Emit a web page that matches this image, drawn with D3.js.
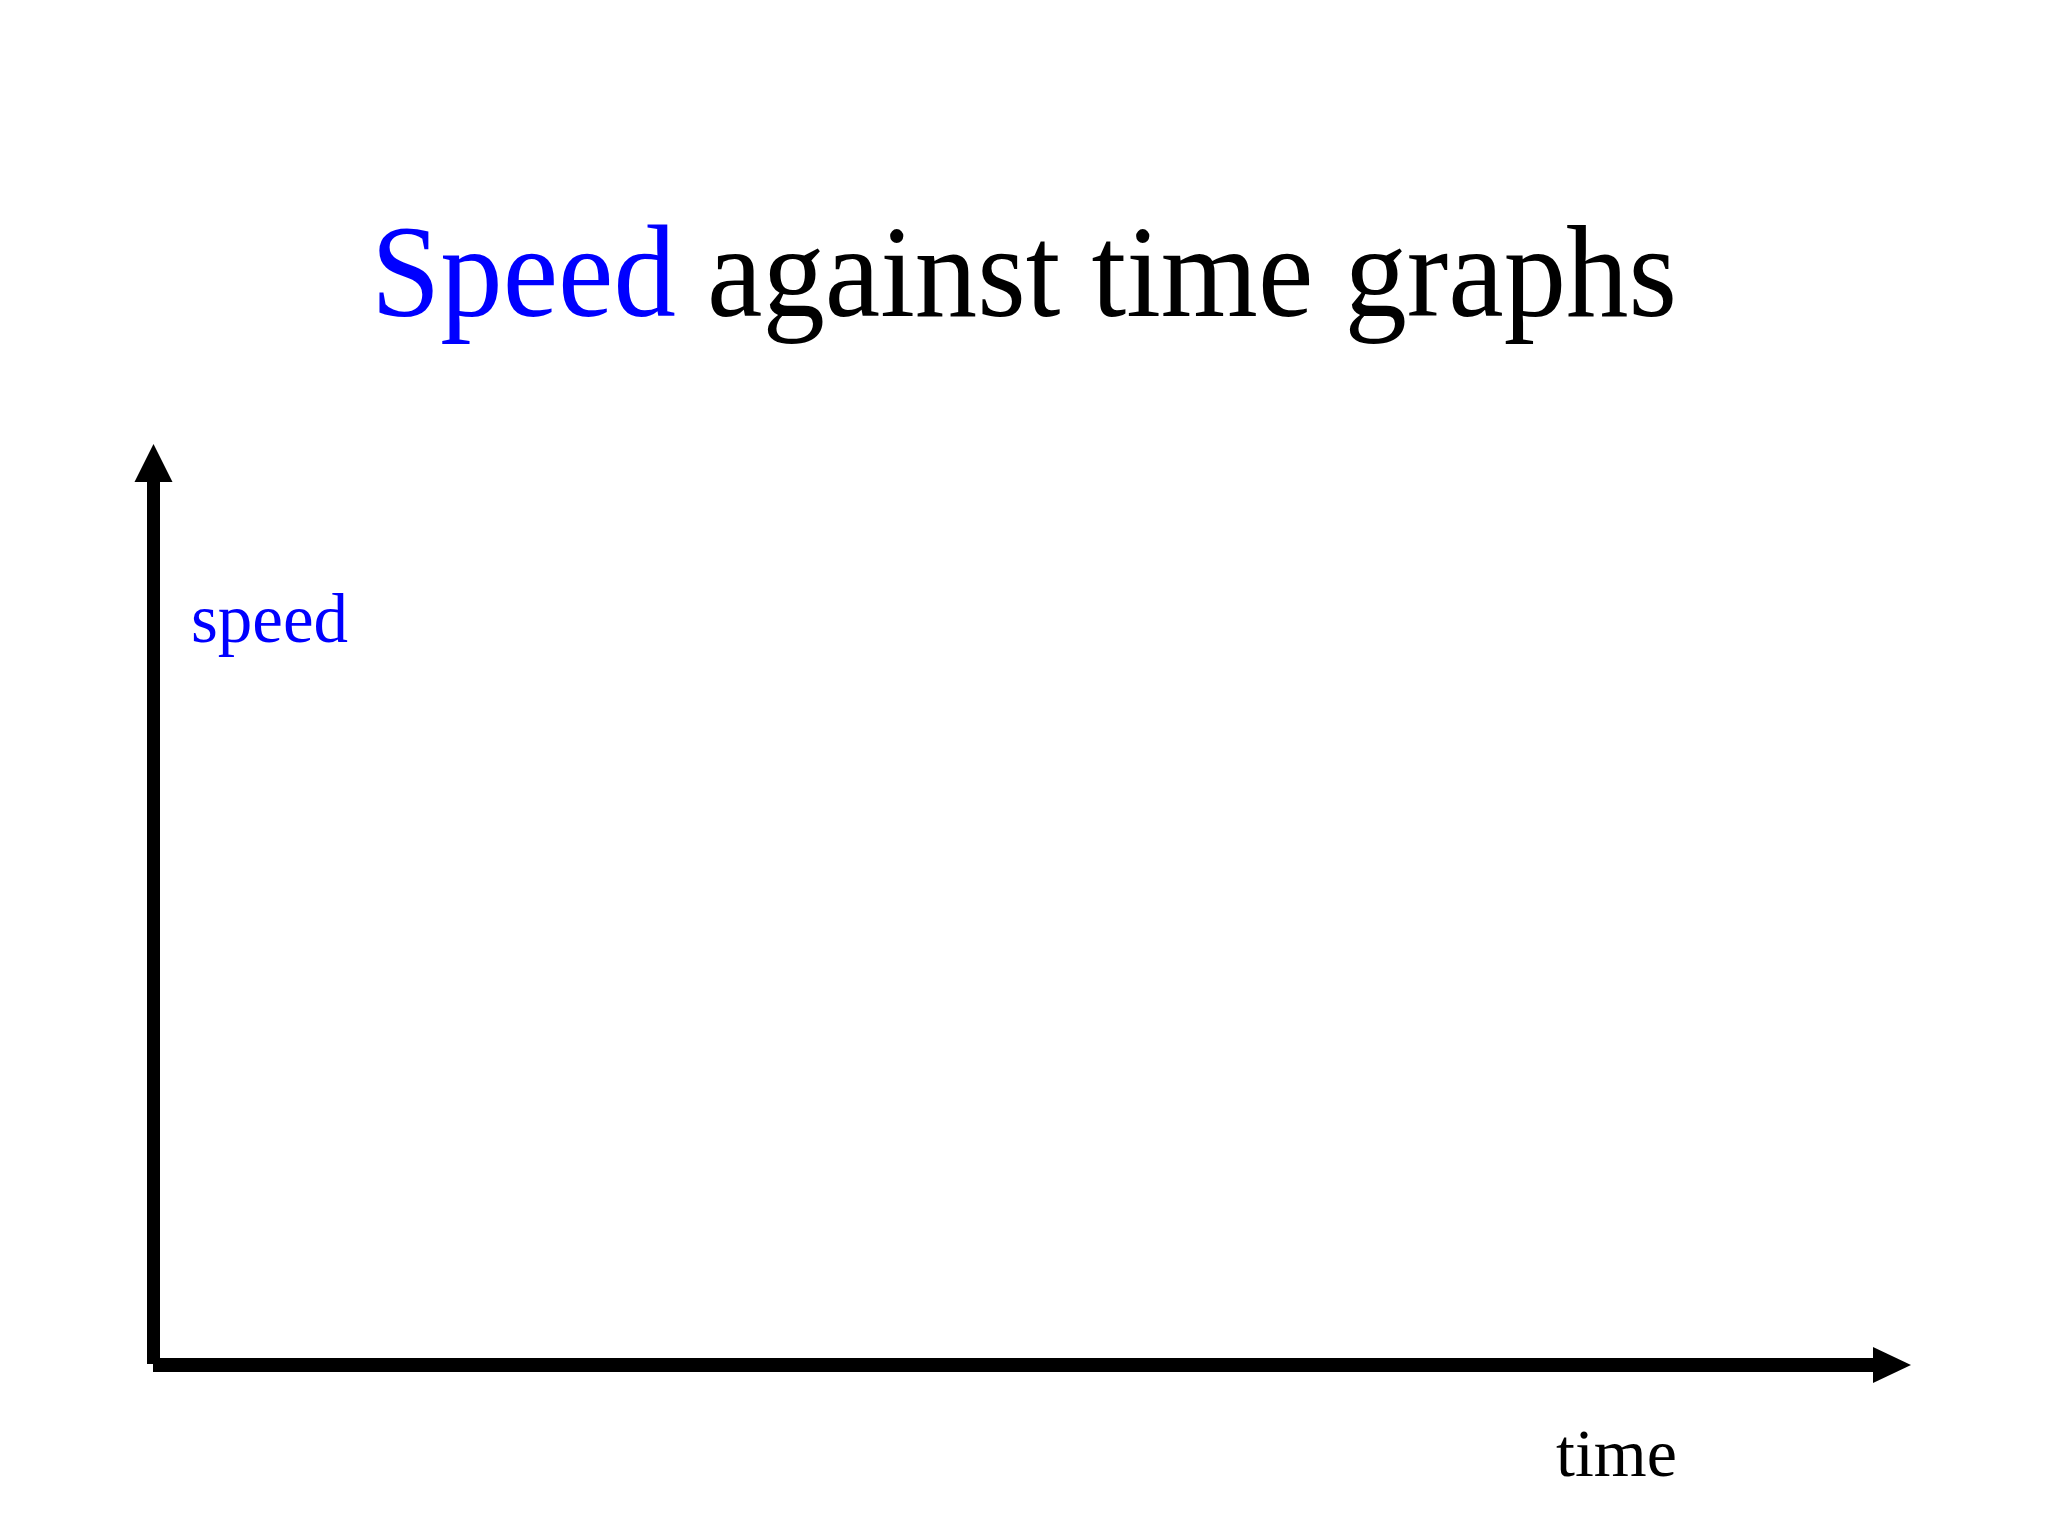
<!DOCTYPE html>
<html>
<head>
<meta charset="utf-8">
<script src="https://cdn.jsdelivr.net/npm/d3@7"></script>
<style>
  html, body { margin: 0; padding: 0; background: #ffffff; }
  svg { display: block; }
</style>
</head>
<body>
<script>
// Chart content (an empty speed–time axes slide)
const titleParts = [
  { text: "Speed", color: "#0000ff" },
  { text: " against time graphs", color: "#000000" }
];
const yAxisLabel = "speed";
const xAxisLabel = "time";
const timeDomain = [0, 1];
const speedDomain = [0, 1];

const W = 2048, H = 1536;
const svg = d3.select("body").append("svg").attr("width", W).attr("height", H);
svg.append("rect").attr("width", W).attr("height", H).attr("fill", "#ffffff");

const x = d3.scaleLinear().domain(timeDomain).range([153, 1911]);
const y = d3.scaleLinear().domain(speedDomain).range([1365, 444]);

// Title
const title = svg.append("text")
  .attr("x", 371).attr("y", 316)
  .attr("font-family", "'Liberation Serif', 'Times New Roman', serif")
  .attr("font-size", 131)
  .attr("textLength", 1306)
  .attr("lengthAdjust", "spacingAndGlyphs")
  .style("white-space", "pre");
title.selectAll("tspan").data(titleParts).join("tspan")
  .attr("fill", d => d.color)
  .text(d => d.text);

// Y axis with arrow
const axW = 13;
const head = 38, headHalf = 19;
const x0 = x(timeDomain[0]) + 0.5;
svg.append("line")
  .attr("x1", x0).attr("x2", x0)
  .attr("y1", y(speedDomain[0]) - 1).attr("y2", y(speedDomain[1]) + head - 1)
  .attr("stroke", "#000").attr("stroke-width", axW);
svg.append("path")
  .attr("d", `M${x0},${y(speedDomain[1])} L${x0 - headHalf},${y(speedDomain[1]) + head} L${x0 + headHalf},${y(speedDomain[1]) + head} Z`)
  .attr("fill", "#000");

// X axis with arrow
const y0 = y(speedDomain[0]);
svg.append("line")
  .attr("x1", x(timeDomain[0])).attr("x2", x(timeDomain[1]) - head + 1)
  .attr("y1", y0).attr("y2", y0)
  .attr("stroke", "#000").attr("stroke-width", 14);
svg.append("path")
  .attr("d", `M${x(timeDomain[1])},${y0} L${x(timeDomain[1]) - head},${y0 - 18} L${x(timeDomain[1]) - head},${y0 + 18} Z`)
  .attr("fill", "#000");

// Axis labels
svg.append("text")
  .attr("x", 191).attr("y", 642)
  .attr("font-family", "'Liberation Serif', 'Times New Roman', serif")
  .attr("font-size", 69)
  .attr("fill", "#0000ff")
  .text(yAxisLabel);

svg.append("text")
  .attr("x", 1556).attr("y", 1476)
  .attr("font-family", "'Liberation Serif', 'Times New Roman', serif")
  .attr("font-size", 68)
  .attr("fill", "#000000")
  .text(xAxisLabel);
</script>
</body>
</html>
